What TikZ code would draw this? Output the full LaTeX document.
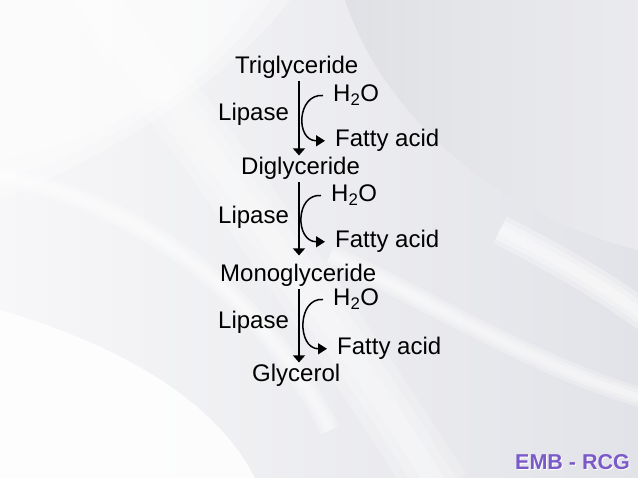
\documentclass[tikz,border=0pt]{standalone}
\usepackage{fontspec}
\setmainfont{Liberation Sans}
\usetikzlibrary{arrows.meta}

\definecolor{slidegray}{HTML}{E2E3E8}
\definecolor{slidelight}{HTML}{F7F7F9}
\definecolor{embpurple}{HTML}{7A5AC8}
\newcommand{\slidefont}{\fontsize{24}{28}\selectfont}

\begin{document}
\begin{tikzpicture}[x=1pt,y=-1pt]

% Custom styles for the labels and arrows
    \tikzstyle{species} = [inner xsep=0pt, inner ysep=2pt, anchor=base west, font=\slidefont]
    \tikzstyle{chem} = [inner xsep=10pt, inner ysep=0pt, anchor=base west, font=\slidefont]
    \tikzstyle{enzyme} = [inner sep=0pt, anchor=base west, font=\slidefont]
    \tikzstyle{hydrolysis} = [line width=1.5pt, -{Triangle[width=12pt,length=7pt]}]
    \tikzstyle{sidearc} = [line width=1.5pt, -{Triangle[width=11pt,length=9pt]}]

    % Background
    \useasboundingbox (0,0) rectangle (638,478);
    \shade[left color=slidelight, right color=slidegray] (0,0) rectangle (638,478);
    \foreach \w in {60,40,20} {
        \fill[white, opacity=0.3] (0,0) -- (230+\w,0) .. controls (190+\w/2,90) and (100,130+\w/2) .. (0,140+\w) -- cycle;
        \draw[white, opacity=0.22, line width=\w pt] (90,-10) .. controls (210,150) and (340,330) .. (440,490);
        \draw[white, opacity=0.25, line width=\w/3 pt] (-5,175) .. controls (110,195) and (250,270) .. (330,430);
        \draw[white, opacity=0.25, line width=\w/3 pt] (330,255) .. controls (430,300) and (540,370) .. (650,400);
        \draw[white, opacity=0.3, line width=\w/2 pt] (500,230) .. controls (560,260) and (610,290) .. (650,320);
    }
    \fill[white, opacity=0.85] (0,310) .. controls (120,345) and (215,400) .. (255,478) -- (0,478) -- cycle;
    \shade[left color=slidegray!92!black, right color=slidelight, opacity=0.4]
        (345,0) .. controls (385,120) and (500,215) .. (638,250) -- (638,0) -- cycle;

    % Define nodes
    \coordinate (axis) at (299,0);
    \node[species] (tri) at (235,74) {Triglyceride};
    \node[chem] (water1) at (323,102) {H\textsubscript{2}O};
    \node[enzyme] (lipase1) at (218,121) {Lipase};
    \node[chem] (fatty1) at (325,147) {Fatty acid};
    \node[species] (di) at (241,175) {Diglyceride};
    \node[chem] (water2) at (321,202) {H\textsubscript{2}O};
    \node[enzyme] (lipase2) at (218,224) {Lipase};
    \node[chem] (fatty2) at (325,248) {Fatty acid};
    \node[species] (mono) at (220,282) {Monoglyceride};
    \node[chem] (water3) at (323,306) {H\textsubscript{2}O};
    \node[enzyme] (lipase3) at (218,329) {Lipase};
    \node[chem] (fatty3) at (327,355) {Fatty acid};
    \node[species] (gly) at (252,382) {Glycerol};

    % Connect nodes
    \draw[hydrolysis] (tri.south -| axis) -- (di.north -| axis);
    \draw[hydrolysis, shorten >=7pt] (di.south -| axis) -- (mono.north -| axis);
    \draw[hydrolysis] (mono.south -| axis) -- (gly.north -| axis);
    \draw[sidearc] (water1.west) .. controls +(-26,-2) and +(-30,0) .. (fatty1.west);
    \draw[sidearc] (water2.west) .. controls +(-26,-2) and +(-30,0) .. (fatty2.west);
    \draw[sidearc] (water3.west) .. controls +(-26,-2) and +(-30,0) .. (fatty3.west);

    % Logo
    \node[anchor=base west, inner sep=0pt, white, font=\fontsize{21.5}{24}\bfseries\selectfont] at (516,471) {EMB - RCG};
    \node[anchor=base west, inner sep=0pt, text=embpurple, font=\fontsize{21.5}{24}\bfseries\selectfont] (logo) at (515,470) {EMB - RCG};

\end{tikzpicture}
\end{document}
